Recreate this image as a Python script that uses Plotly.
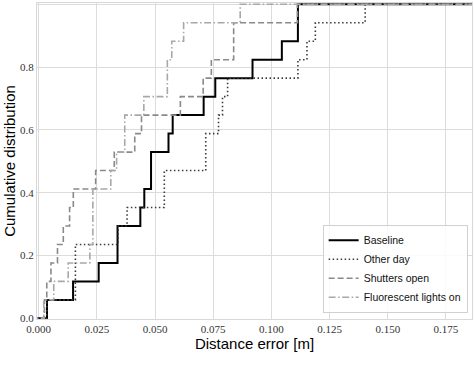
import plotly.graph_objects as go

# Sorted distance errors [m] per condition (17 samples each)
baseline = [0.0036, 0.0148, 0.0258, 0.0339, 0.0339, 0.0437, 0.0454, 0.0483, 0.0483,
            0.0558, 0.0576, 0.0709, 0.0759, 0.0919, 0.1045, 0.1114, 0.1114]
other_day = [0.0035, 0.0158, 0.0158, 0.0158, 0.0342, 0.0380, 0.0540, 0.0540, 0.0718,
             0.0718, 0.0773, 0.0790, 0.0812, 0.1114, 0.1153, 0.1189, 0.1403]
shutters_open = [0.0025, 0.0035, 0.0053, 0.0081, 0.0106, 0.0133, 0.0149, 0.0245, 0.0325,
                 0.0413, 0.0442, 0.0609, 0.0707, 0.0742, 0.0838, 0.0838, 0.1112]
fluorescent = [0.0022, 0.0065, 0.0127, 0.0220, 0.0233, 0.0233, 0.0233, 0.0310, 0.0335,
               0.0370, 0.0370, 0.0452, 0.0553, 0.0553, 0.0572, 0.0623, 0.0866]

series_names = ["Baseline", "Other day", "Shutters open", "Fluorescent lights on"]
x_ticks = [0.000, 0.025, 0.050, 0.075, 0.100, 0.125, 0.150, 0.175]
y_ticks = [0.0, 0.2, 0.4, 0.6, 0.8, 1.0]

X_MIN, X_MAX = -0.0007, 0.1862

styles = [
    dict(color="#000000", width=2.0, dash="solid"),
    dict(color="#3a3a3a", width=1.6, dash="1.5px,2.5px"),
    dict(color="#8a8a8a", width=1.6, dash="6px,3px"),
    dict(color="#a8a8a8", width=1.6, dash="7px,2.5px,1.5px,2.5px"),
]


def ecdf(values):
    v = sorted(values)
    n = len(v)
    xs = [X_MIN - 0.01] + v + [X_MAX + 0.01]
    ys = [0.0] + [(i + 1) / n for i in range(n)] + [1.0]
    return xs, ys


fig = go.Figure()
for name, vals, st in zip(series_names,
                          [baseline, other_day, shutters_open, fluorescent], styles):
    xs, ys = ecdf(vals)
    fig.add_trace(go.Scatter(x=xs, y=ys, mode="lines", name=name,
                             line=dict(shape="hv", **st)))

tick_font = dict(family="Times New Roman", size=11, color="#333333")
title_font = dict(family="Liberation Sans", size=15, color="#000000")

fig.update_layout(
    width=474, height=366,
    margin=dict(l=37, r=2, t=3, b=47),
    paper_bgcolor="white", plot_bgcolor="white",
    showlegend=True,
    legend=dict(
        x=0.99, y=0.02, xanchor="right", yanchor="bottom",
        bgcolor="rgba(255,255,255,0.85)", bordercolor="#d0d0d0", borderwidth=1,
        font=dict(family="Liberation Sans", size=10.5, color="#111111"),
        tracegroupgap=0,
    ),
    xaxis=dict(
        range=[X_MIN, X_MAX], tickvals=x_ticks, tickformat=".3f",
        showgrid=True, gridcolor="#dcdcdc", gridwidth=1,
        zeroline=False, showline=True, mirror=True, linecolor="#d8d8d8",
        ticks="", tickfont=tick_font, automargin=False,
        title=dict(text="Distance error [m]", font=title_font, standoff=0),
    ),
    yaxis=dict(
        range=[-0.002, 1.004], tickvals=y_ticks, tickformat=".1f",
        showgrid=True, gridcolor="#dcdcdc", gridwidth=1,
        zeroline=False, showline=True, mirror=True, linecolor="#d8d8d8",
        ticks="", tickfont=tick_font, automargin=False,
        title=dict(text="Cumulative distribution", font=title_font, standoff=0),
    ),
)

fig.write_html("out.html", config={"displayModeBar": False},
               post_script="document.body.style.margin='0px';document.body.style.overflow='hidden';")
